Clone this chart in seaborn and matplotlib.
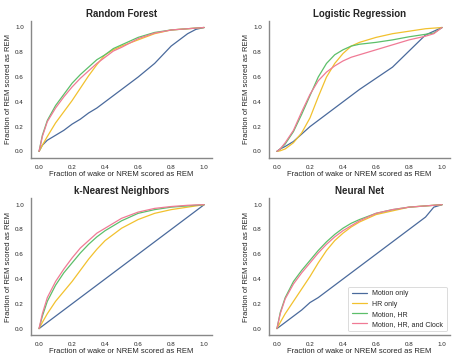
import pandas as pd
import numpy as np
import matplotlib
matplotlib.use("Agg")
import matplotlib.pyplot as plt
import seaborn as sns

# shared false positive grid (fraction of wake/NREM scored as REM)
fpr = [0, .02, .05, .1, .15, .2, .25, .3, .35, .4, .45, .5, .6, .7, .8, .9, .95, 1.0]

feature_sets = ["Motion only", "HR only", "Motion, HR", "Motion, HR, and Clock"]
colors = ["#4a6a9c", "#f2c12e", "#5cbf6a", "#f07a95"]

# Random Forest
rf_motion = [0, .05, .09, .13, .17, .22, .26, .31, .35, .40, .45, .50, .60, .71, .85, .95, .985, 1]
rf_hr = [0, .05, .12, .23, .32, .41, .51, .61, .70, .78, .82, .85, .90, .95, .98, .99, .995, 1]
rf_motion_hr = [0, .13, .25, .37, .46, .55, .62, .68, .74, .78, .83, .86, .92, .96, .98, .99, .995, 1]
rf_all = [0, .12, .24, .35, .44, .52, .59, .65, .71, .76, .81, .84, .91, .955, .98, .99, .995, 1]

# Logistic Regression
lr_motion = [0, .02, .04, .08, .14, .20, .25, .30, .35, .40, .45, .50, .59, .68, .81, .94, .97, 1]
lr_hr = [0, .005, .02, .07, .15, .27, .44, .60, .71, .79, .85, .88, .92, .95, .97, .99, .995, 1]
lr_motion_hr = [0, .02, .06, .16, .30, .45, .60, .71, .78, .82, .85, .865, .88, .90, .925, .945, .955, 1]
lr_all = [0, .02, .07, .17, .32, .46, .57, .64, .69, .73, .76, .78, .82, .86, .90, .93, .95, 1]

# k-Nearest Neighbors
knn_motion = [0, .02, .05, .10, .15, .20, .25, .30, .35, .40, .45, .50, .60, .70, .80, .90, .95, 1]
knn_hr = [0, .05, .12, .22, .30, .38, .47, .56, .64, .71, .76, .81, .88, .93, .96, .98, .99, 1]
knn_motion_hr = [0, .10, .22, .35, .45, .53, .61, .68, .74, .79, .83, .87, .93, .96, .98, .99, .995, 1]
knn_all = [0, .12, .25, .38, .48, .57, .65, .71, .77, .81, .85, .89, .94, .97, .985, .995, .998, 1]

# Neural Net
nn_motion = [0, .02, .05, .10, .15, .21, .25, .30, .35, .40, .45, .50, .60, .70, .80, .90, .98, 1]
nn_hr = [0, .05, .12, .22, .32, .42, .53, .63, .71, .77, .82, .86, .92, .95, .98, .99, .995, 1]
nn_motion_hr = [0, .13, .25, .38, .47, .55, .63, .70, .76, .81, .85, .88, .93, .96, .98, .99, .995, 1]
nn_all = [0, .12, .24, .36, .45, .53, .61, .68, .74, .79, .83, .87, .93, .96, .98, .99, .995, 1]

models = {
    "Random Forest": [rf_motion, rf_hr, rf_motion_hr, rf_all],
    "Logistic Regression": [lr_motion, lr_hr, lr_motion_hr, lr_all],
    "k-Nearest Neighbors": [knn_motion, knn_hr, knn_motion_hr, knn_all],
    "Neural Net": [nn_motion, nn_hr, nn_motion_hr, nn_all],
}

sns.set_style("white")
plt.rcParams["font.family"] = ["Liberation Sans", "DejaVu Sans"]

fig, axes = plt.subplots(2, 2, figsize=(4.74, 3.55), dpi=100)
fig.subplots_adjust(left=0.065, right=0.95, top=0.94, bottom=0.057, wspace=0.31, hspace=0.3)

for ax, (name, curves) in zip(axes.flat, models.items()):
    # long-form table for this classifier
    df = pd.DataFrame({
        "fpr": fpr * len(curves),
        "tpr": sum(curves, []),
        "features": np.repeat(feature_sets, len(fpr)),
    })
    sns.lineplot(data=df, x="fpr", y="tpr", hue="features", palette=colors,
                 hue_order=feature_sets, sort=False, estimator=None,
                 linewidth=0.9, ax=ax, legend=(name == "Neural Net"))
    ax.set_title(name, fontsize=7, fontweight="bold", pad=3)
    ax.set_xlabel("Fraction of wake or NREM scored as REM", fontsize=5.5, labelpad=1)
    ax.set_ylabel("Fraction of REM scored as REM", fontsize=5.5, labelpad=2)
    ax.set_xticks([0, 0.2, 0.4, 0.6, 0.8, 1.0])
    ax.set_yticks([0, 0.2, 0.4, 0.6, 0.8, 1.0])
    ax.tick_params(labelsize=4.5, pad=1.5)
    sns.despine(ax=ax)
    for s in ["left", "bottom"]:
        ax.spines[s].set_color("#888888")
        ax.spines[s].set_linewidth(1.0)
    if name == "Neural Net":
        leg = ax.legend(loc="lower right", fontsize=5, frameon=True,
                        handlelength=2.2, borderpad=0.5, labelspacing=0.45)
        leg.get_frame().set_edgecolor("#cccccc")
        leg.get_frame().set_linewidth(0.6)

fig.savefig("out.png", dpi=100)
